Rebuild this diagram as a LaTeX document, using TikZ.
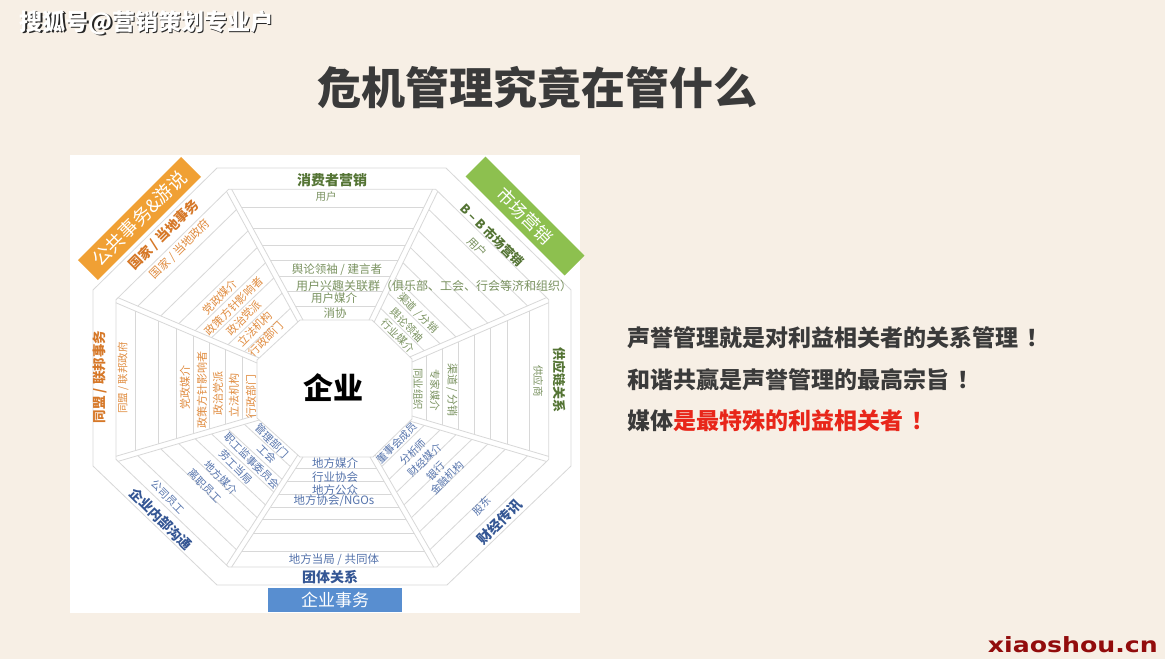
\documentclass[tikz,border=0pt]{standalone}
\usepackage{fontspec}
\setmainfont{Noto Sans CJK SC}
\newfontfamily\wmfont{DejaVu Sans}
\usetikzlibrary{calc}
\newcommand\fsz[1]{\fontsize{#1}{#1}\selectfont}
\newcommand\bang{\hspace{8pt}！}
\definecolor{bg}{RGB}{247,239,229}
\definecolor{webline}{RGB}{216,216,216}
\definecolor{orgband}{RGB}{240,160,52}
\definecolor{orgtxt}{RGB}{224,140,64}
\definecolor{orgtxtd}{RGB}{214,120,40}
\definecolor{grnband}{RGB}{141,192,79}
\definecolor{grntxt}{RGB}{122,146,96}
\definecolor{grntxtd}{RGB}{84,116,52}
\definecolor{blubox}{RGB}{88,142,208}
\definecolor{blutxt}{RGB}{86,116,172}
\definecolor{blutxtd}{RGB}{52,86,148}
\definecolor{titlec}{RGB}{58,58,58}
\definecolor{redt}{RGB}{232,38,26}
\definecolor{wmred}{RGB}{146,12,12}
\begin{document}
\begin{tikzpicture}[x=1pt,y=-1pt,
  web/.style={draw=webline, line width=0.8pt},
  lab/.style={inner sep=0pt},
  ors/.style={lab,text=orgtxt,font=\fsz{10.5}},
  orb/.style={lab,text=orgtxtd,font=\bfseries\fsz{13.5}},
  grs/.style={lab,text=grntxt,font=\fsz{10.5}},
  grb/.style={lab,text=grntxtd,font=\bfseries\fsz{13.5}},
  bls/.style={lab,text=blutxt,font=\fsz{10.5}},
  blb/.style={lab,text=blutxtd,font=\bfseries\fsz{13.5}},
  band/.style={inner sep=0pt, minimum width=146pt, minimum height=28pt, text=white, font=\fsz{17.5}},
  rtext/.style={lab,anchor=west,text=titlec,font=\bfseries\fsz{23}}
]
\useasboundingbox (0,0) rectangle (1165,659);
\fill[bg] (0,0) rectangle (1165,659);
\fill[white] (70,155) rectangle (580,613);

% watermark
\node[anchor=west, font=\bfseries\fsz{23}, text=black!85] (wms) at (17.5,24) {搜狐号@营销策划专业户};
\node[anchor=west, font=\bfseries\fsz{23}, text=white] (wm) at (16,22.5) {搜狐号@营销策划专业户};

% title
\node[lab, text=titlec, font=\bfseries\fsz{44}] (title) at (537,88) {危机管理究竟在管什么};

% web geometry
\coordinate (O1) at (217,168);
\coordinate (O2) at (446,168);
\coordinate (O3) at (571,290);
\coordinate (O4) at (571,466);
\coordinate (O5) at (447,585);
\coordinate (O6) at (217,585);
\coordinate (O7) at (93,466);
\coordinate (O8) at (93,290);
\coordinate (I1) at (300,320);
\coordinate (I2) at (372,320);
\coordinate (I3) at (412,359);
\coordinate (I4) at (412,419);
\coordinate (I5) at (373,457);
\coordinate (I6) at (300,457);
\coordinate (I7) at (257,418);
\coordinate (I8) at (257,360);
\foreach \k in {1,...,8} \coordinate (A\k) at ($(O\k)!0.14!(I\k)$);
\draw[web] (O1)--(O2)--(O3)--(O4)--(O5)--(O6)--(O7)--(O8)--cycle;
\draw[web] (A1)--(A2)--(A3)--(A4)--(A5)--(A6)--(A7)--(A8)--cycle;
\draw[web] (I1)--(I2)--(I3)--(I4)--(I5)--(I6)--(I7)--(I8)--cycle;
\foreach \i/\j in {1/2,2/3,3/4,4/5,5/6,6/7,7/8,8/1}{
  \foreach \t in {0.26,0.40,0.51,0.61,0.71,0.81,0.91}{
    \coordinate (p) at ($(O\i)!\t!(I\i)$);
    \coordinate (q) at ($(O\j)!\t!(I\j)$);
    \draw[web] ($(p)!3pt!(q)$) -- ($(q)!3pt!(p)$);
  }
  \draw[web] ($(A\i)!3pt!(A\j)$) -- ($(I\i)!3pt!(I\j)$);
  \draw[web] ($(A\j)!3pt!(A\i)$) -- ($(I\j)!3pt!(I\i)$);
}

% centre
\node[lab, text=black, font=\bfseries\fsz{30}] (center) at (333,388) {企业};

% top sector
\node[grb, font=\bfseries\fsz{14}] (t1) at (332,180) {消费者营销};
\node[grs] (t2) at (326,197) {用户};
\node[grs, font=\fsz{11.5}] (t3) at (337,270) {舆论领袖 / 建言者};
\node[grs, font=\fsz{12}, anchor=west] (t4) at (296,286) {用户兴趣关联群（俱乐部、工会、行会等济和组织）};
\node[grs, font=\fsz{11.5}] (t5) at (334,298) {用户媒介};
\node[grs, font=\fsz{11.5}] (t6) at (335,313) {消协};

% top-right sector
\node[band, fill=grnband, rotate=-45, minimum width=140pt] (gband) at (525,216) {市场营销};
\node[grb, font=\bfseries\fsz{12.5}, rotate=-45] (tr1) at (492,235) {B – B 市场营销};
\node[grs, font=\fsz{11}, rotate=-45] (tr2) at (477,247) {用户};
\node[grs, rotate=-45] (tr3) at (418,313) {渠道 / 分销};
\node[grs, rotate=-45] (tr4) at (407,325) {舆论领袖};
\node[grs, rotate=-45] (tr5) at (398,336) {行业媒介};

% right sector
\node[grb, font=\bfseries\fsz{13}, rotate=-90] (r1) at (559,380) {供应链关系};
\node[grs, rotate=-90] (r2) at (538,381) {供应商};
\node[grs, font=\fsz{11}, rotate=-90] (r3) at (452,390) {渠道 / 分销};
\node[grs, rotate=-90] (r4) at (435,390) {专家媒介};
\node[grs, rotate=-90] (r5) at (418,389) {同业组织};

% bottom-right sector
\node[bls, rotate=45] (br1) at (397,443) {董事会成员};
\node[bls, rotate=45] (br2) at (413,452) {分析师};
\node[bls, rotate=45] (br3) at (425,460) {财经媒介};
\node[bls, rotate=45] (br4) at (436,471) {银行};
\node[bls, rotate=45] (br5) at (447,478) {金融机构};
\node[bls, rotate=45] (br6) at (482,506) {股东};
\node[blb, font=\bfseries\fsz{14}, rotate=45] (br7) at (500,522) {财经传讯};

% bottom sector
\node[bls, font=\fsz{11.5}] (b1) at (335,463) {地方媒介};
\node[bls, font=\fsz{11.5}] (b2) at (335,477) {行业协会};
\node[bls, font=\fsz{11.5}] (b3) at (335,490) {地方公众};
\node[bls, font=\fsz{11.5}] (b4) at (334,501) {地方协会/NGOs};
\node[bls, font=\fsz{11.5}] (b5) at (334,560) {地方当局 / 共同体};
\node[blb, font=\bfseries\fsz{14}] (b6) at (330,577) {团体关系};
\node[fill=blubox, minimum width=134pt, minimum height=24pt, inner sep=0pt, text=white, font=\fsz{17}] (bbox) at (335,600) {企业事务};

% bottom-left sector
\node[bls, rotate=-45] (bl1) at (272,441) {管理部门};
\node[bls, rotate=-45] (bl2) at (267,454) {工会};
\node[bls, rotate=-45] (bl3) at (252,461) {职工监事委员会};
\node[bls, rotate=-45] (bl4) at (236,467) {劳工当局};
\node[bls, rotate=-45] (bl5) at (221,478) {地方媒介};
\node[bls, rotate=-45] (bl6) at (205,486) {离职员工};
\node[bls, rotate=-45] (bl7) at (168,497) {公司员工};
\node[blb, rotate=-45] (bl8) at (161,519) {企业内部沟通};

% left sector
\node[orb, rotate=90] (l1) at (100,377) {同盟 / 联邦事务};
\node[ors, rotate=90] (l2) at (123,378) {同盟 / 联邦政府};
\node[ors, font=\fsz{11}, rotate=90] (l3) at (185,387) {党政媒介};
\node[ors, font=\fsz{11}, rotate=90] (l4) at (202,390) {政策方针影响者};
\node[ors, font=\fsz{11}, rotate=90] (l5) at (218,393) {政治党派};
\node[ors, font=\fsz{11}, rotate=90] (l6) at (234,395) {立法机构};
\node[ors, font=\fsz{11}, rotate=90] (l7) at (251,396) {行政部门};

% top-left sector
\node[band, fill=orgband, rotate=45, font=\fsz{18.5}] (oband) at (139.5,218.5) {公共事务\&游说};
\node[orb, rotate=45] (tl1) at (164,235) {国家 / 当地事务};
\node[ors, font=\fsz{11.5}, rotate=45] (tl2) at (180,249) {国家 / 当地政府};
\node[ors, font=\fsz{11}, rotate=45] (tl3) at (220,297) {党政媒介};
\node[ors, font=\fsz{11}, rotate=45] (tl4) at (234,306) {政策方针影响者};
\node[ors, font=\fsz{11}, rotate=45] (tl5) at (244,318) {政治党派};
\node[ors, font=\fsz{11}, rotate=45] (tl6) at (255,329) {立法机构};
\node[ors, font=\fsz{11}, rotate=45] (tl7) at (266,339) {行政部门};

% right text
\node[rtext] (m1) at (627,338) {声誉管理就是对利益相关者的关系管理\bang};
\node[rtext] (m2) at (627,380) {和谐共赢是声誉管理的最高宗旨\bang};
\node[rtext] (m3) at (627,421) {媒体{\color{redt}是最特殊的利益相关者\bang}};

% site mark
\node[lab, anchor=east, text=wmred, font=\wmfont\bfseries\fsz{21}] (site) at (1158,645) {\scalebox{1.2}[1]{xiaoshou.cn}};
\end{tikzpicture}
\end{document}
